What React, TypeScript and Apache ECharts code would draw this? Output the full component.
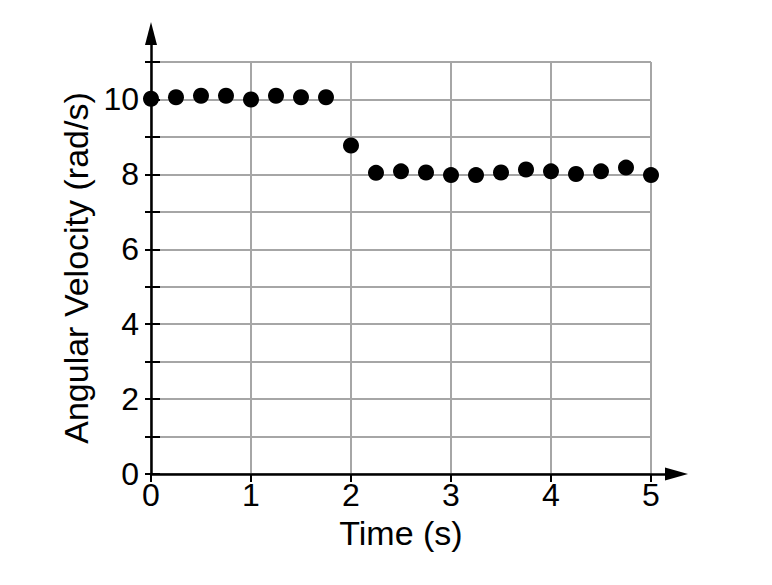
import { useEffect, useRef } from "react";
import * as echarts from "echarts";

const times = [0, 0.25, 0.5, 0.75, 1, 1.25, 1.5, 1.75, 2, 2.25, 2.5, 2.75, 3, 3.25, 3.5, 3.75, 4, 4.25, 4.5, 4.75, 5];
const velocity = [10.02, 10.06, 10.1, 10.1, 10.0, 10.1, 10.06, 10.06, 8.77, 8.04, 8.08, 8.05, 7.98, 7.98, 8.05, 8.13, 8.08, 8.01, 8.08, 8.18, 7.98];
const yLabels = ["0", "2", "4", "6", "8", "10"];

const FONT = "'Liberation Sans', Arial, Helvetica, sans-serif";

export default function App(): JSX.Element {
  const chartRef = useRef<HTMLDivElement>(null);
  useEffect(() => {
    const myChart = echarts.init(chartRef.current, null, { renderer: "svg" });
    const gridLine = { show: true, lineStyle: { color: "#a6a6a6", width: 2 } };
    const option = {
      animation: false,
      backgroundColor: "#ffffff",
      textStyle: { fontFamily: FONT, color: "#000" },
      grid: [
        { left: 151, top: 62, right: 121, bottom: 111 },
        // grid for axis lines with arrows, a bit longer than the plot
        { left: 151, top: 33.5, right: 95.5, bottom: 111 },
      ],
      xAxis: [
        {
          type: "value",
          gridIndex: 0,
          min: 0,
          max: 5,
          interval: 1,
          name: "Time (s)",
          nameLocation: "middle",
          nameGap: 40,
          nameTextStyle: { fontSize: 34, color: "#000", fontFamily: FONT },
          axisLine: { show: false },
          axisTick: { show: true, inside: false, length: 8, lineStyle: { color: "#000", width: 2 } },
          axisLabel: { fontSize: 32, color: "#000", margin: 5, fontFamily: FONT },
          splitLine: gridLine,
        },
        {
          type: "value",
          gridIndex: 0,
          min: 0,
          max: 5,
          interval: 1,
          axisLine: { show: false },
          axisTick: { show: true, inside: true, length: 7, lineStyle: { color: "#000", width: 2 } },
          axisLabel: { show: false },
          splitLine: { show: false },
        },
        {
          type: "value",
          gridIndex: 1,
          min: 0,
          max: 1,
          z: 5,
          axisLine: {
            show: true,
            onZero: false,
            symbol: ["none", "triangle"],
            symbolSize: [13, 23],
            lineStyle: { color: "#000", width: 2.5 },
          },
          axisTick: { show: false },
          axisLabel: { show: false },
          splitLine: { show: false },
        },
      ],
      yAxis: [
        {
          type: "value",
          gridIndex: 0,
          min: 0,
          max: 11,
          interval: 1,
          name: "Angular Velocity (rad/s)",
          nameLocation: "middle",
          nameGap: 51,
          nameTextStyle: { fontSize: 34, color: "#000", fontFamily: FONT },
          axisLine: { show: false },
          axisTick: { show: true, inside: false, length: 6, lineStyle: { color: "#000", width: 2 } },
          axisLabel: {
            fontSize: 32,
            color: "#000",
            margin: 12,
            fontFamily: FONT,
            formatter: (v: number) => (yLabels.includes(String(v)) ? String(v) : ""),
          },
          splitLine: gridLine,
        },
        {
          type: "value",
          gridIndex: 0,
          min: 0,
          max: 11,
          interval: 1,
          position: "left",
          axisLine: { show: false },
          axisTick: { show: true, inside: true, length: 9, lineStyle: { color: "#000", width: 2 } },
          axisLabel: { show: false },
          splitLine: { show: false },
        },
        {
          type: "value",
          gridIndex: 1,
          min: 0,
          max: 1,
          z: 5,
          axisLine: {
            show: true,
            onZero: false,
            symbol: ["none", "triangle"],
            symbolSize: [12, 23],
            lineStyle: { color: "#000", width: 2.5 },
          },
          axisTick: { show: false },
          axisLabel: { show: false },
          splitLine: { show: false },
        },
      ],
      series: [
        {
          type: "scatter",
          xAxisIndex: 0,
          yAxisIndex: 0,
          z: 10,
          symbol: "circle",
          symbolSize: 16,
          itemStyle: { color: "#000", opacity: 1 },
          data: times.map((t, i) => [t, velocity[i]]),
        },
      ],
    };
    myChart.setOption(option);
    return () => {
      myChart.dispose();
    };
  }, []);

  return (
    <div
      ref={chartRef}
      style={{ position: "fixed", left: 0, top: 0, width: 772, height: 585 }}
    ></div>
  );
}
